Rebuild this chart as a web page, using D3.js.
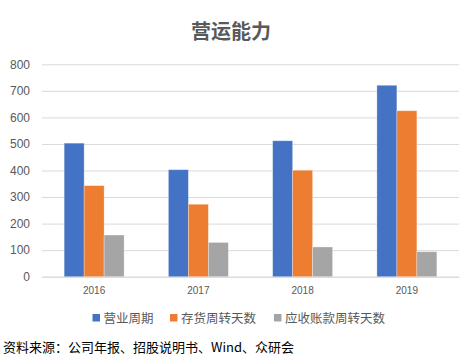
<!DOCTYPE html>
<html><head><meta charset="utf-8">
<script src="https://cdn.jsdelivr.net/npm/d3@7/dist/d3.min.js"></script>
<style>body{margin:0;background:#fff;}svg{display:block;font-family:"Noto Sans CJK SC","Microsoft YaHei",sans-serif;}</style>
</head><body><svg id="c" width="474" height="361"></svg>
<script>
const categories = ["2016","2017","2018","2019"];
const seriesNames = ["营业周期","存货周转天数","应收账款周转天数"];
const operatingCycle = [503, 403, 512, 721];
const inventoryDays = [343, 273, 401, 625];
const receivableDays = [157, 129, 112, 94];
const yTicks = [0,100,200,300,400,500,600,700,800];
const colors = ["#4472C4","#ED7D31","#A5A5A5"];
const series = [operatingCycle, inventoryDays, receivableDays];

(function(){
const svg = d3.select("#c");
const pLeft = 42, pRight = 459, pTop = 64.3, pBottom = 276.7;
const x0 = d3.scaleBand().domain(categories).range([pLeft, pRight]).paddingInner(0.425).paddingOuter(0.2125);
const x1 = d3.scaleBand().domain(d3.range(3)).range([0, x0.bandwidth()]);
const y = d3.scaleLinear().domain([0,800]).range([pBottom, pTop]);

svg.append("text").attr("x",231).attr("y",39).attr("text-anchor","middle")
  .attr("font-size",20).attr("font-weight","bold").attr("fill","#595959").text("营运能力");

const yAxis = d3.axisLeft(y).tickValues(yTicks).tickSize(-(pRight-pLeft)).tickPadding(12);
const gy = svg.append("g").attr("transform",`translate(${pLeft},0)`).call(yAxis);
gy.select(".domain").remove();
gy.selectAll(".tick line").attr("stroke","#D9D9D9").attr("stroke-width",1);
gy.selectAll(".tick text").attr("fill","#595959").attr("font-size",12).attr("font-family","Liberation Sans, Arial, sans-serif");

const xAxis = d3.axisBottom(x0).tickSize(0).tickPadding(10);
const gx = svg.append("g").attr("transform",`translate(0,${pBottom})`).call(xAxis);
gx.select(".domain").attr("stroke","#D9D9D9");
gx.selectAll(".tick text").attr("fill","#595959").attr("font-size",10).attr("font-family","Liberation Sans, Arial, sans-serif");

const groups = svg.append("g").selectAll("g").data(categories).join("g")
  .attr("transform", d => `translate(${x0(d)},0)`);
groups.selectAll("rect").data((d,i) => series.map((s,k) => ({k, v: s[i]}))).join("rect")
  .attr("x", d => x1(d.k)).attr("width", x1.bandwidth())
  .attr("y", d => y(d.v)).attr("height", d => pBottom - y(d.v))
  .attr("fill", d => colors[d.k]).attr("stroke","#ffffff").attr("stroke-opacity",0.4).attr("stroke-width",0.75);

const legendX = [92.5, 170, 274];
const lg = svg.append("g");
seriesNames.forEach((n,i) => {
  lg.append("rect").attr("x",legendX[i]).attr("y",314).attr("width",7.5).attr("height",7.5).attr("fill",colors[i]);
  lg.append("text").attr("x",legendX[i]+11).attr("y",322.5).attr("font-size",12.5).attr("fill","#595959").text(n);
});

svg.append("text").attr("x",3).attr("y",352).attr("font-size",13).attr("fill","#000").text("资料来源：公司年报、招股说明书、Wind、众研会");
})();
</script></body></html>
